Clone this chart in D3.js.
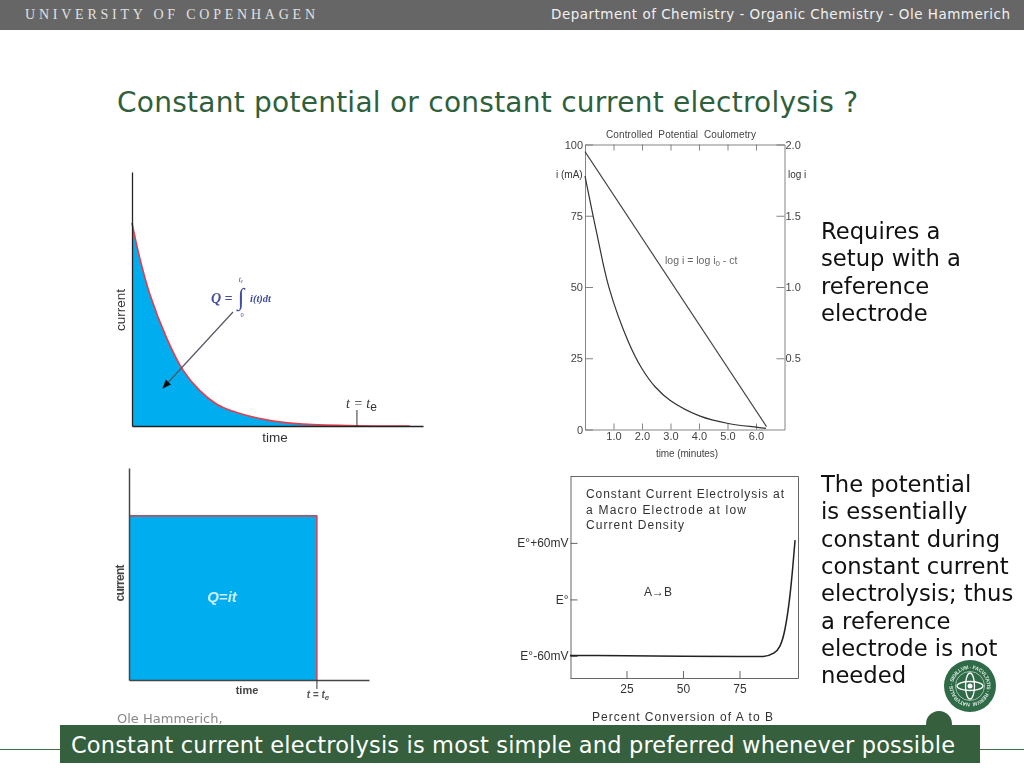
<!DOCTYPE html>
<html><head><meta charset="utf-8">
<script src="https://cdn.jsdelivr.net/npm/d3@7/dist/d3.min.js"></script>
<style>html,body{margin:0;padding:0;background:#fff;overflow:hidden}svg{display:block}</style>
</head><body><div id="c"></div>
<script>
// ---- data ----
const decayTime    = [0,0.26,0.61,1.18,1.73,2.33,2.90,3.47,4.62,5.76,7.71,9.54];
const decayCurrent = [80,66.4,52,34.9,22.4,13.9,8.7,5.8,2.4,0.8,0.1,0];
const chargeEndTime = 7.73;
const constTime    = [0,7.83];
const constCurrent = [77.4,77.4];

const cpcTime    = [0,0.41,0.85,1.52,1.99,2.46,2.98,4.04,5.03,6.02,6.35];
const cpcCurrent = [88.9,69,49.5,30.8,21.5,15,10.3,4.7,2.1,0.8,0.4];
const cpcLogTime = [0,6.37];
const cpcLogI    = [1.95,0.02];
const cpcTimeTicks = [1,2,3,4,5,6];
const cpcLeftTicks = [0,25,50,75,100];
const cpcRightTicks = [0.5,1,1.5,2];

const cccPercent = [0,25,50,75.2,85.5,89.9,92.9,95.1,97.3,98.5,99.6];
const cccPotential = [-59.5,-59.8,-60.2,-60.5,-60.5,-57.3,-49.6,-31.9,3.5,31.9,63];
const cccXTicks = [25,50,75];
const cccYTicks = [-60,0,60];
const cccYLabels = ["E°-60mV","E°","E°+60mV"];

const note1Lines = ["Requires a","setup with a","reference","electrode"];
const note2Lines = ["The potential","is essentially","constant during","constant current","electrolysis; thus","a reference","electrode is not","needed"];
const boxLines = ["Constant Current Electrolysis at","a Macro Electrode at low","Current Density"];

// ---- page ----
const GREEN="#355f3d", BLUE="#00adef", RED="#e2404f";
const sans="'Liberation Sans',Arial,sans-serif", verd="'DejaVu Sans',Verdana,sans-serif", serif="'Liberation Serif',serif";
const svg=d3.select("#c").append("svg").attr("width",1024).attr("height",768);
const defs=svg.append("defs");
defs.append("filter").attr("id","soft").attr("x","-5%").attr("y","-5%").attr("width","110%").attr("height","110%")
  .append("feGaussianBlur").attr("stdDeviation",0.4);
defs.append("marker").attr("id","ah").attr("viewBox","0 0 10 10").attr("refX",9).attr("refY",5)
  .attr("markerWidth",9).attr("markerHeight",9).attr("markerUnits","userSpaceOnUse").attr("orient","auto")
  .append("path").attr("d","M0,1 L10,5 L0,9 Z").attr("fill","#111");

function txt(g,x,y,s,o={}){
  const t=g.append("text").attr("x",x).attr("y",y).text(s)
    .attr("font-family",o.f||sans).attr("font-size",o.s||12).attr("fill",o.c||"#222")
    .attr("text-anchor",o.a||"start");
  if(o.w)t.attr("font-weight",o.w);
  if(o.i)t.attr("font-style","italic");
  if(o.len)t.attr("textLength",o.len).attr("lengthAdjust","spacing");
  if(o.rot)t.attr("transform",`rotate(${o.rot} ${x} ${y})`);
  return t;
}

// header
svg.append("rect").attr("width",1024).attr("height",30).attr("fill","#666");
txt(svg,25,19,"UNIVERSITY OF COPENHAGEN",{f:serif,s:14,c:"#e0e0e0",len:290});
txt(svg,551,19,"Department of Chemistry - Organic Chemistry - Ole Hammerich",{f:verd,s:13.5,c:"#f0f0f0",len:459});
txt(svg,117,112,"Constant potential or constant current electrolysis ?",{f:verd,s:28,c:"#2f5f3c",len:741});

// chart 1: decaying current
{
  const g=svg.append("g").attr("filter","url(#soft)");
  const x=d3.scaleLinear().domain([0,10]).range([132,423]);
  const y=d3.scaleLinear().domain([0,100]).range([426,172]);
  const pts=decayTime.map((t,i)=>[t,decayCurrent[i]]);
  g.append("path").attr("fill",BLUE)
    .attr("d",d3.area().x(d=>x(d[0])).y0(y(0)).y1(d=>y(d[1])).curve(d3.curveCatmullRom)(pts));
  g.append("path").attr("fill","none").attr("stroke",RED).attr("stroke-width",1.7)
    .attr("d",d3.line().x(d=>x(d[0])).y(d=>y(d[1])).curve(d3.curveCatmullRom)(pts));
  const ax=g.append("g").attr("transform",`translate(0,${y(0)})`).call(d3.axisBottom(x).tickValues([]).tickSizeOuter(0));
  ax.select(".domain").attr("stroke","#222").attr("stroke-width",1.3);
  const ay=g.append("g").attr("transform",`translate(${x(0)},0)`).call(d3.axisLeft(y).tickValues([]).tickSizeOuter(0));
  ay.select(".domain").attr("stroke","#222").attr("stroke-width",1.3);
  g.append("line").attr("x1",x(chargeEndTime)).attr("x2",x(chargeEndTime)).attr("y1",410).attr("y2",y(0)).attr("stroke","#333");
  txt(g,275,442,"time",{s:13.5,a:"middle",c:"#333"});
  txt(g,125,310,"current",{s:13.5,a:"middle",c:"#333",rot:-90});
  const tl=txt(g,346,408,"t = t",{f:serif,s:14,i:1,c:"#333"});
  tl.append("tspan").attr("dy",3).attr("font-family",sans).attr("font-style","normal").attr("font-size",12).text("e");
  const B="#3f4f9e";
  txt(g,211,303,"Q =",{f:serif,s:14,i:1,w:"bold",c:B});
  txt(g,241,305,"∫",{f:serif,s:24,a:"middle",i:1,c:B});
  txt(g,241,282,"tₑ",{f:serif,s:8,a:"middle",i:1,c:B});
  txt(g,242,317,"0",{f:serif,s:6.5,a:"middle",c:B});
  txt(g,250,302,"i(t)dt",{f:serif,s:10.5,i:1,w:"bold",c:B});
  g.append("line").attr("x1",233).attr("y1",312).attr("x2",163).attr("y2",388)
    .attr("stroke","#556").attr("stroke-width",1.2).attr("marker-end","url(#ah)");
}

// chart 2: constant current
{
  const g=svg.append("g").attr("filter","url(#soft)");
  const x=d3.scaleLinear().domain([0,10]).range([129,369]);
  const y=d3.scaleLinear().domain([0,100]).range([680,468]);
  const te=constTime[1], i0=constCurrent[0];
  g.append("rect").attr("x",x(0)).attr("y",y(i0)).attr("width",x(te)-x(0)).attr("height",y(0)-y(i0)).attr("fill",BLUE);
  g.append("path").attr("fill","none").attr("stroke",RED).attr("stroke-width",1.5)
    .attr("d",d3.line().x(d=>x(d[0])).y(d=>y(d[1]))([[0,i0],[te,i0],[te,0]]));
  g.append("line").attr("x1",x(0)).attr("x2",x(te)).attr("y1",y(i0)-0.5).attr("y2",y(i0)-0.5).attr("stroke","#666").attr("stroke-width",0.8);
  const ax=g.append("g").attr("transform",`translate(0,${y(0)})`).call(d3.axisBottom(x).tickValues([]).tickSizeOuter(0));
  ax.select(".domain").attr("stroke","#444").attr("stroke-width",1.5);
  const ay=g.append("g").attr("transform",`translate(${x(0)},0)`).call(d3.axisLeft(y).tickValues([]).tickSizeOuter(0));
  ay.select(".domain").attr("stroke","#444").attr("stroke-width",1.5);
  g.append("line").attr("x1",x(te)).attr("x2",x(te)).attr("y1",y(0)).attr("y2",689).attr("stroke","#333");
  txt(g,124,583,"current",{s:12,a:"middle",w:"bold",c:"#444",rot:-90,len:37});
  txt(g,247,694,"time",{s:11,a:"middle",w:"bold",c:"#444"});
  txt(g,318,698,"t = t",{s:10,a:"middle",i:1,w:"bold",c:"#555"}).append("tspan").attr("dy",2).attr("font-size",8).text("e");
  txt(g,222,602,"Q=it",{s:15,a:"middle",i:1,w:"bold",c:"#cdeefc"});
}

// chart 3: controlled potential coulometry
{
  const g=svg.append("g").attr("filter","url(#soft)");
  const x=d3.scaleLinear().domain([0,7]).range([585,784.5]);
  const y=d3.scaleLinear().domain([0,100]).range([429.5,144.5]);
  const yL=d3.scaleLinear().domain([0,2]).range([429.5,144.5]);
  const style=s=>{s.selectAll("path,line").attr("stroke","#777").attr("stroke-width",0.9);
    s.selectAll("text").attr("font-family",sans).attr("font-size",11).attr("fill","#444");};
  g.append("g").attr("transform","translate(0,429.5)").call(d3.axisBottom(x).tickValues(cpcTimeTicks).tickSize(-6).tickSizeOuter(0).tickPadding(3).tickFormat(d3.format(".1f"))).call(style);
  g.append("g").attr("transform","translate(0,144.5)").call(d3.axisTop(x).tickValues(cpcTimeTicks).tickSize(-6).tickSizeOuter(0).tickFormat("")).call(style);
  g.append("g").attr("transform","translate(585,0)").call(d3.axisLeft(y).tickValues(cpcLeftTicks).tickSize(-8).tickSizeOuter(0).tickPadding(2)).call(style);
  g.append("g").attr("transform","translate(784.5,0)").call(d3.axisRight(yL).tickValues(cpcRightTicks).tickSize(-8).tickSizeOuter(0).tickPadding(1).tickFormat(d3.format(".1f"))).call(style);
  const ln=d3.line().x(d=>x(d[0])).y(d=>y(d[1])).curve(d3.curveCatmullRom);
  g.append("path").attr("fill","none").attr("stroke","#333").attr("stroke-width",1.2)
    .attr("d",ln(cpcTime.map((t,i)=>[t,cpcCurrent[i]])));
  g.append("path").attr("fill","none").attr("stroke","#444").attr("stroke-width",1.1)
    .attr("d",d3.line().x(d=>x(d[0])).y(d=>yL(d[1]))(cpcLogTime.map((t,i)=>[t,cpcLogI[i]])));
  txt(g,606,138,"Controlled  Potential  Coulometry",{s:10,c:"#444",len:150}).style("white-space","pre");
  txt(g,556,178,"i (mA)",{s:10,c:"#333"});
  txt(g,788,178,"log i",{s:10,c:"#333"});
  txt(g,656,457,"time (minutes)",{s:10,c:"#444",len:62});
  const f=txt(g,665,264,"log i = log i",{s:10.5,c:"#666"});
  f.append("tspan").attr("dy",2).attr("font-size",8).text("0");
  f.append("tspan").attr("dy",-2).text(" - ct");
}

// chart 4: constant current electrolysis
{
  const g=svg.append("g").attr("filter","url(#soft)");
  const x=d3.scaleLinear().domain([0,100.9]).range([570,798]);
  const y=d3.scaleLinear().domain([-83.4,131]).range([678,476]);
  const style=s=>{s.selectAll("path,line").attr("stroke","#555").attr("stroke-width",0.9);
    s.selectAll("text").attr("font-family",sans).attr("font-size",12).attr("fill","#333");};
  g.append("g").attr("transform","translate(0,678)").call(d3.axisBottom(x).tickValues(cccXTicks).tickSize(-7).tickSizeOuter(0).tickPadding(6)).call(style);
  g.append("g").attr("transform","translate(0,476)").call(d3.axisTop(x).tickValues([]).tickSize(0).tickSizeOuter(0)).call(style);
  g.append("g").attr("transform","translate(570.5,0)").call(d3.axisLeft(y).tickValues(cccYTicks).tickSize(-7).tickSizeOuter(0).tickPadding(2)
     .tickFormat((d,i)=>cccYLabels[i])).call(style);
  g.append("g").attr("transform","translate(798,0)").call(d3.axisRight(y).tickValues([]).tickSize(0).tickSizeOuter(0)).call(style);
  g.append("path").attr("fill","none").attr("stroke","#222").attr("stroke-width",1.5)
    .attr("d",d3.line().x(d=>x(d[0])).y(d=>y(d[1])).curve(d3.curveMonotoneX)(cccPercent.map((p,i)=>[p,cccPotential[i]])));
  const lens=[198,160,98];
  boxLines.forEach((s,i)=>txt(g,586,498+i*15.5,s,{s:12,c:"#333",len:lens[i]}));
  txt(g,644,596,"A→B",{s:12,c:"#333",len:28});
  txt(g,592,721,"Percent Conversion of A to B",{s:12,c:"#333",len:181});
}

// notes
note1Lines.forEach((s,i)=>txt(svg,821,239+i*27.3,s,{f:verd,s:22.7,c:"#111"}));
note2Lines.forEach((s,i)=>txt(svg,821,492+i*27.3,s,{f:verd,s:22.7,c:"#111"}));

txt(svg,117,723,"Ole Hammerich,",{f:verd,s:13,c:"#888"});

// seal
{
  const g=svg.append("g").attr("transform","translate(970,686)");
  g.append("circle").attr("r",26).attr("fill","#2f6b47");
  g.append("circle").attr("r",14.5).attr("fill","none").attr("stroke","#cfe0d5").attr("stroke-width",0.7);
  defs.append("path").attr("id","ring").attr("d","M0,17 A17,17 0 1 1 0.01,17");
  g.append("text").attr("font-family",sans).attr("font-size",5.2).attr("font-weight","bold").attr("fill","#dcebe2")
    .append("textPath").attr("href","#ring").attr("textLength",104).text("NATVRALIS · SIGILLVM · FACVLTATIS · RERVM");
  g.append("ellipse").attr("rx",4.5).attr("ry",13).attr("fill","none").attr("stroke","#fff").attr("stroke-width",1.3);
  g.append("ellipse").attr("rx",13).attr("ry",4.5).attr("fill","none").attr("stroke","#fff").attr("stroke-width",1.3);
  g.append("circle").attr("r",2.5).attr("fill","#fff");
}

// footer
svg.append("line").attr("x1",0).attr("x2",1024).attr("y1",749.5).attr("y2",749.5).attr("stroke","#3f7049").attr("stroke-width",1.2);
svg.append("circle").attr("cx",939).attr("cy",724).attr("r",13).attr("fill",GREEN);
svg.append("rect").attr("x",60).attr("y",725).attr("width",920).attr("height",38).attr("fill",GREEN);
txt(svg,71,753,"Constant current electrolysis is most simple and preferred whenever possible",{f:verd,s:22.5,c:"#fff",len:884});
</script></body></html>
